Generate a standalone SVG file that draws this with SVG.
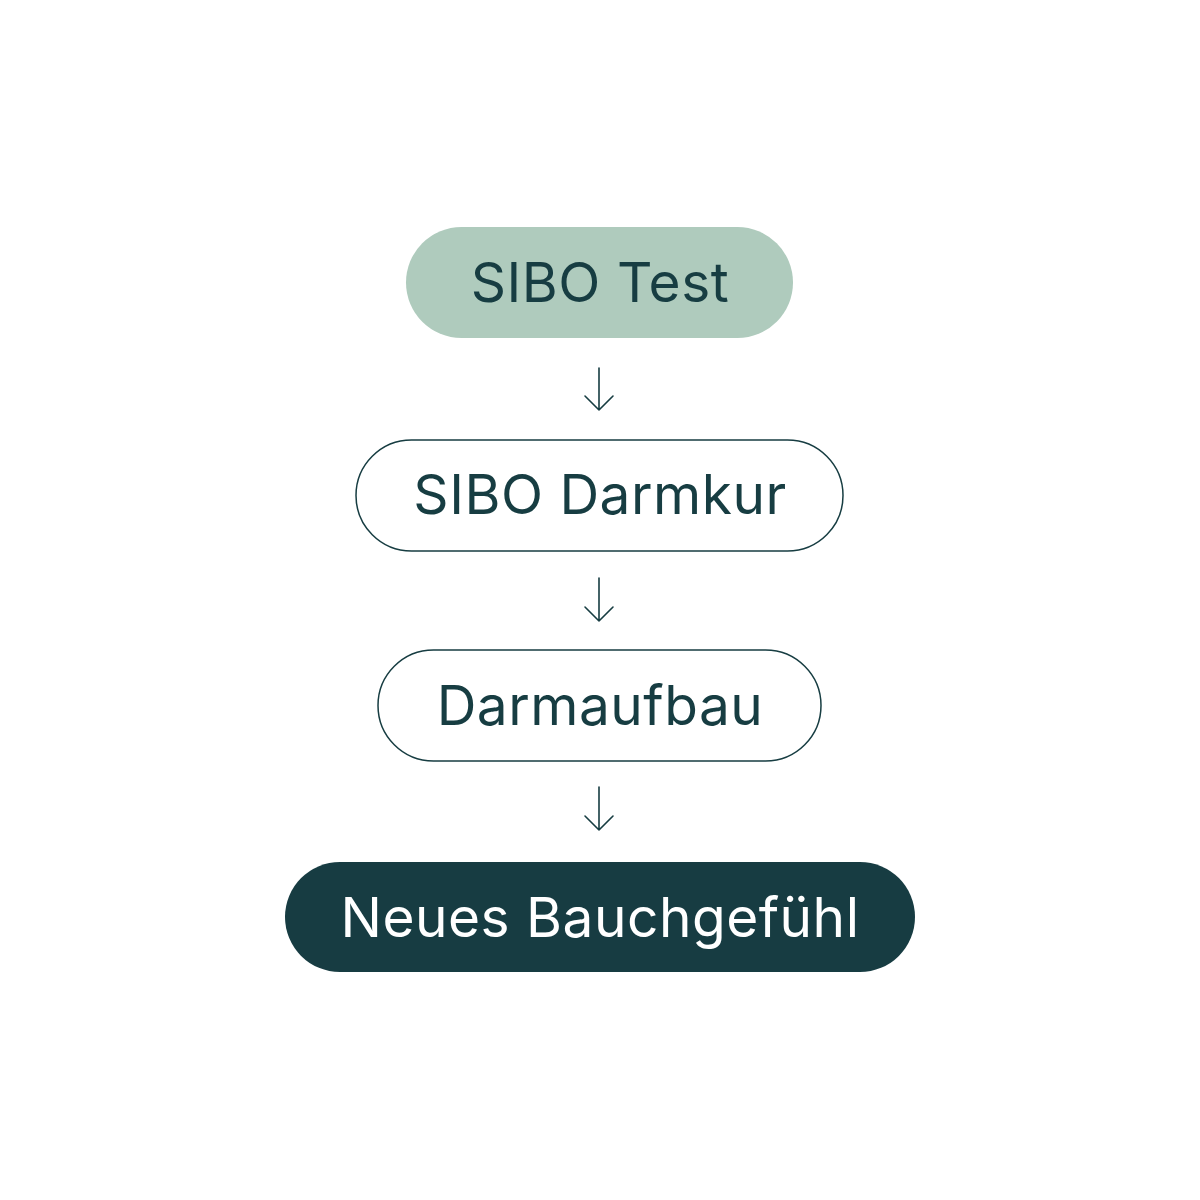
<svg xmlns="http://www.w3.org/2000/svg" width="1200" height="1200" viewBox="0 0 1200 1200">
<style>
.lbl{font-family:Inter,"Noto Sans","Liberation Sans",sans-serif;font-size:55px;letter-spacing:0.5px;text-anchor:middle;fill:#173d42}
.out{fill:#ffffff;stroke:#173d42;stroke-width:1.5}
.conn{fill:none;stroke:#173d42;stroke-width:1.6;stroke-linecap:round;stroke-linejoin:round}
</style>
<rect width="1200" height="1200" fill="#ffffff"/>
<g id="node-sibo-test">
<rect x="406" y="227" width="387" height="111" rx="55.5" fill="#afcbbd"/>
<text class="lbl" x="600" y="302">SIBO Test</text>
</g>
<g id="node-sibo-darmkur">
<rect class="out" x="356" y="440" width="487" height="111" rx="55.5"/>
<text class="lbl" x="600" y="514">SIBO Darmkur</text>
</g>
<g id="node-darmaufbau">
<rect class="out" x="378" y="650" width="443" height="111" rx="55.5"/>
<text class="lbl" x="600" y="725">Darmaufbau</text>
</g>
<g id="node-neues-bauchgefuehl">
<rect x="285" y="862" width="630" height="110" rx="55" fill="#173c42"/>
<text class="lbl" x="600" y="937" style="fill:#ffffff">Neues Bauchgefühl</text>
</g>
<g id="connectors">
<path class="conn" d="M599 368V410M585 396L599 410L613 396"/>
<path class="conn" d="M599 578V621M585 607L599 621L613 607"/>
<path class="conn" d="M599 787V830M585 816L599 830L613 816"/>
</g>
</svg>
